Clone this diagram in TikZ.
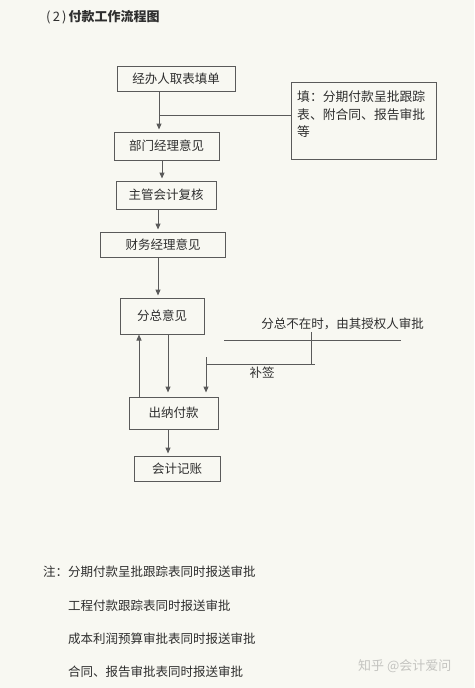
\documentclass[tikz,border=0pt]{standalone}
\usepackage{fontspec}
\setmainfont{Noto Sans CJK SC}
\usetikzlibrary{arrows.meta,positioning,calc}
\definecolor{paper}{HTML}{F8F8F2}
\definecolor{ink}{HTML}{2E2E2E}
\definecolor{rule}{HTML}{5A5A5A}
\definecolor{mark}{HTML}{C4C4C0}

\begin{document}
\begin{tikzpicture}
   [x=1pt,y=-1pt,
      flowbox/.style={shape=rectangle,draw=rule,line width=1pt,inner sep=0pt,
      text=ink,font=\fontsize{12.5}{14}\selectfont},
notebox/.style={anchor=north west,align=left,text width=133pt,text=ink,
inner xsep=6pt,inner ysep=9pt,font=\fontsize{12.8}{17.5}\selectfont},
lbl/.style={text=ink,inner sep=0pt,font=\fontsize{12.5}{14}\selectfont},
plain/.style={draw=rule,line width=1pt},
link/.style={plain,-{Triangle[length=6pt,width=5pt]},shorten >=2pt}]
%%
\newcommand{\xya}{(176,78.5)}
\newcommand{\xyb}{(166.5,146)}
\newcommand{\xyc}{(166,195)}
\newcommand{\xyd}{(163,244.5)}
\newcommand{\xye}{(162,316)}
\newcommand{\xyf}{(173.5,413)}
\newcommand{\xyg}{(177,468.5)}
%%
\fill[paper] (0,0) rectangle (474,688);
\node (title) [lbl,anchor=west,font=\fontsize{13}{15}\selectfont] at (46,17)
{(\,2\,)\,\textbf{付款工作流程图}};
%%
\node (fill) [flowbox,minimum width=118pt,minimum height=25pt] at \xya {经办人取表填单};
\node (dept) [flowbox,minimum width=105pt,minimum height=28pt] at \xyb {部门经理意见};
\node (chief) [flowbox,minimum width=100pt,minimum height=28pt] at \xyc {主管会计复核};
\node (fin) [flowbox,minimum width=125pt,minimum height=25pt] at \xyd {财务经理意见};
\node (gm) [flowbox,minimum width=84pt,minimum height=36pt] at \xye {分总意见};
\node (pay) [flowbox,minimum width=89pt,minimum height=32pt] at \xyf {出纳付款};
\node (book) [flowbox,minimum width=86pt,minimum height=25pt] at \xyg {会计记账};
\node (attach) [notebox] at (291,82)
{填：分期付款呈批跟踪\\表、附合同、报告审批\\等};
\draw[plain] (attach.north west) rectangle (436,159);
%%
\draw[link] (fill.south -| 159,0) -- (dept.north -| 159,0);
\draw[link] (dept.south -| 162,0) -- (chief.north -| 162,0);
\draw[link] (chief.south -| 158,0) -- (fin.north -| 158,0);
\draw[link] (fin.south -| 158,0) -- (gm.north -| 158,0);
\draw[link,shorten >=4pt] (gm.south -| 168,0) -- (pay.north -| 168,0);
\draw[link,shorten >=0pt] (pay.north -| 139,0) -- (gm.south -| 139,0);
\draw[link] (pay.south -| 168,0) -- (book.north -| 168,0);
%%
\coordinate (j1) at (159,115);
\draw[plain] (j1) -- (attach.west |- j1);
%%
%% deputy signs later
\coordinate (h1) at (224,340);
\coordinate (h2) at (401,340);
\coordinate (v1) at (311,332);
\coordinate (v2) at (311,364);
\coordinate (s1) at (206,364);
\coordinate (s2) at (315,364);
\coordinate (d1) at (206,357);
\draw[plain] (h1) -- (h2);
\node (absent) [lbl] at (342.5,324) {分总不在时，由其授权人审批};
\draw[plain] (v1) -- (v2);
\draw[plain] (s1) -- (s2);
\draw[link,shorten >=4pt] (d1) -- (pay.north -| d1);
\node (resign) [lbl] at (262,373) {补签};
%%
%% notes
\node (n1) [lbl,anchor=west] at (43,572) {注：分期付款呈批跟踪表同时报送审批};
\node (n2) [lbl,anchor=west] at (68,606) {工程付款跟踪表同时报送审批};
\node (n3) [lbl,anchor=west] at (68,639) {成本利润预算审批表同时报送审批};
\node (n4) [lbl,anchor=west] at (68,672) {合同、报告审批表同时报送审批};
\node (wm) [lbl,anchor=west,text=mark,font=\fontsize{13}{15}\selectfont] at (358,666) {知乎 @会计爱问};
\end{tikzpicture}
\end{document}
